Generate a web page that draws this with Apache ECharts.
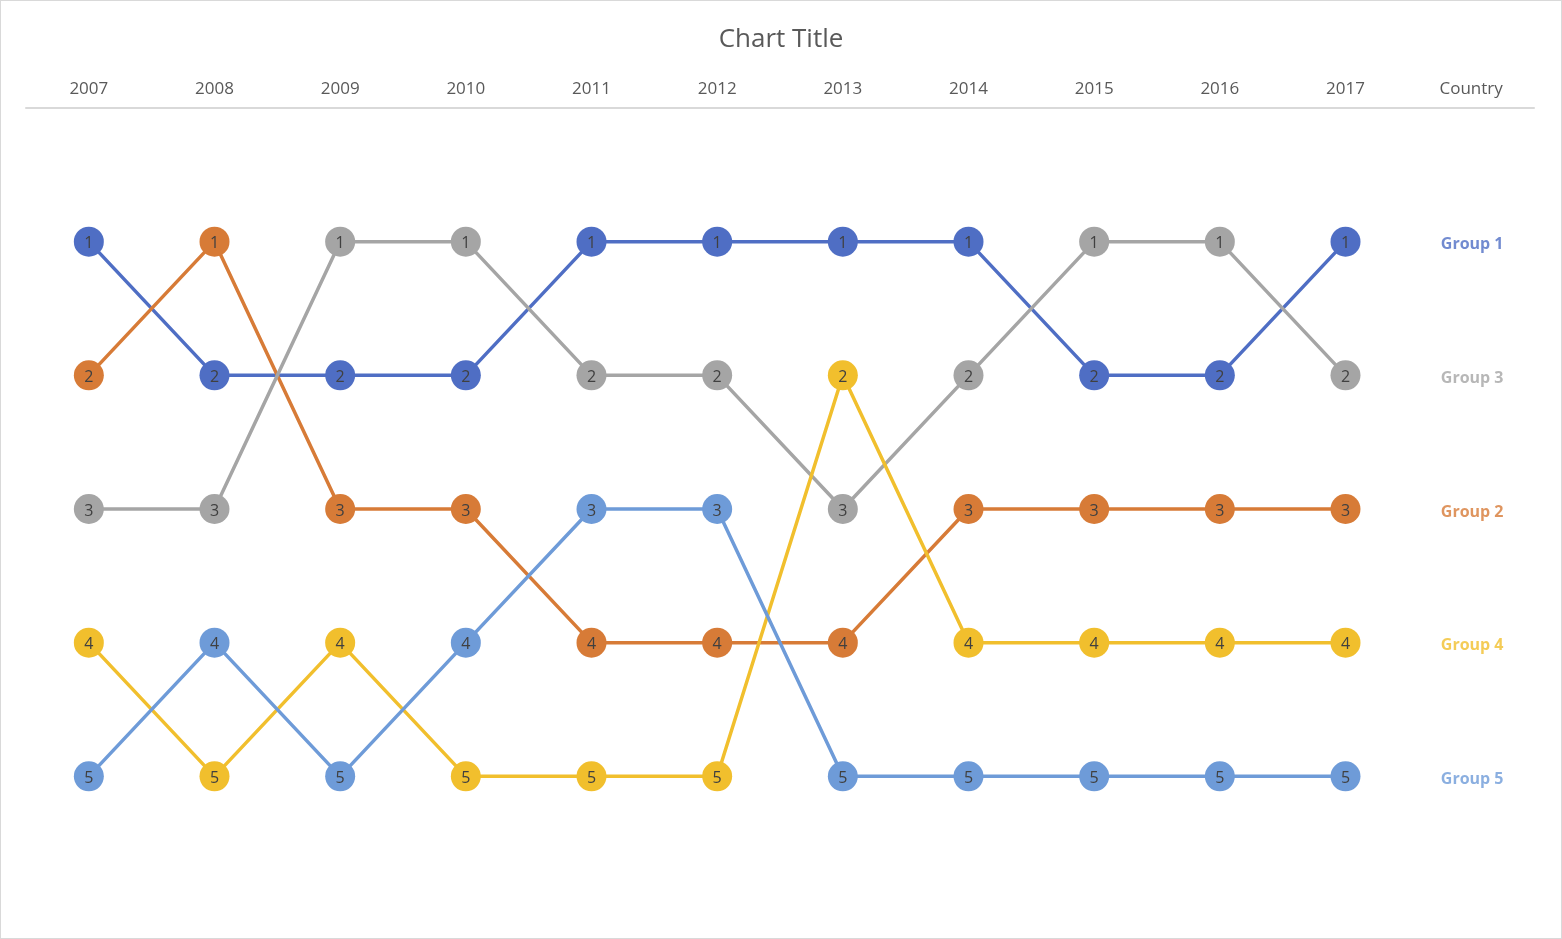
<!DOCTYPE html>
<html>
<head>
<meta charset="utf-8">
<script src="https://cdn.jsdelivr.net/npm/echarts@6/dist/echarts.min.js"></script>
<style>
html,body{margin:0;padding:0;background:#fff;}
#c{width:1560px;height:937px;border:1px solid #d9d9d9;}
</style>
</head>
<body>
<div id="c"></div>
<script>
var categories = ['2007','2008','2009','2010','2011','2012','2013','2014','2015','2016','2017','Country'];
var groupNames = ['Group 1','Group 2','Group 3','Group 4','Group 5'];
var group1 = [1,2,2,2,1,1,1,1,2,2,1];
var group2 = [2,1,3,3,4,4,4,3,3,3,3];
var group3 = [3,3,1,1,2,2,3,2,1,1,2];
var group4 = [4,5,4,5,5,5,2,4,4,4,4];
var group5 = [5,4,5,4,3,3,5,5,5,5,5];
var colors = ['#4F6EC4','#D77B37','#A5A5A5','#F1BF2D','#6E9BD8'];

var groups = [group1, group2, group3, group4, group5];
var series = groups.map(function(vals, i){
  return {
    name: groupNames[i],
    type: 'line',
    data: vals.map(function(v, j){ return [categories[j], v]; }),
    symbol: 'circle',
    symbolSize: 30,
    lineStyle: {color: colors[i], width: 3.5},
    itemStyle: {color: colors[i]},
    label: {show: true, position: 'inside', offset:[0,2], color: '#404040', fontSize: 16, fontFamily: 'Open Sans',
      formatter: function(p){ return p.value[1]; }},
    z: 2 + i
  };
});
series.push({
  type: 'scatter',
  symbolSize: 0,
  data: groups.map(function(vals, i){
    return {value: ['Country', vals[vals.length-1]],
      label: {show: true, position: 'inside', offset:[1,3], formatter: groupNames[i], color: colors[i], fontWeight: 'bold', fontSize: 16, fontFamily: 'Open Sans'}};
  })
});

var chart = echarts.init(document.getElementById('c'));
chart.setOption({
  animation: false,
  title: {text: 'Chart Title', left: 'center', top: 21, textStyle: {color: '#595959', fontSize: 26, fontWeight: 'normal', fontFamily: 'Open Sans'}},
  grid: {left: 25, right: 27, top: 107, bottom: 28},
  xAxis: {type: 'category', data: categories, position: 'top', boundaryGap: true,
    axisLine: {lineStyle: {color: '#d9d9d9', width: 2}}, axisTick: {show: false},
    axisLabel: {color: '#595959', fontSize: 17, margin: 10, fontFamily: 'Open Sans'}},
  yAxis: {type: 'value', min: 0, max: 6, inverse: true, show: false, splitLine: {show: false}},
  series: series
});
</script>
</body>
</html>
